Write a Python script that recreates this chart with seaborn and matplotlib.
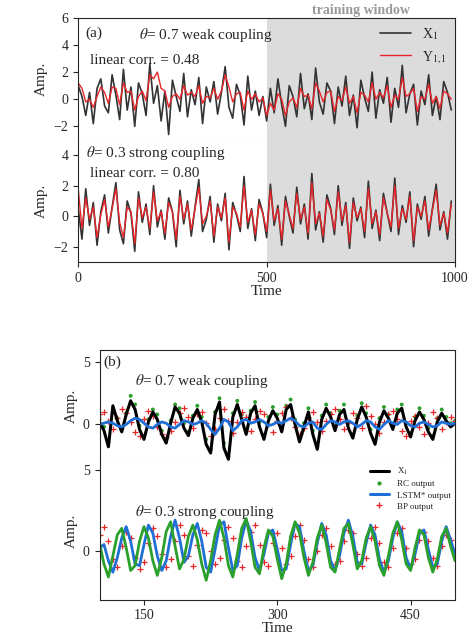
import numpy as np
import pandas as pd
import matplotlib.pyplot as plt
import seaborn as sns
from matplotlib.lines import Line2D

# panel (a): time 0..1000, step 10
t_a = list(range(0, 1000, 10))
xa_top = [1.0,0.2,-1.2,0.5,-1.8,0.8,1.5,-0.5,-1.0,1.8,0.3,-1.5,2.2,-0.8,0.9,-2.0,1.2,0.4,-1.2,2.6,
          -0.3,1.0,-1.6,0.6,-2.6,1.4,0.2,-0.9,1.9,-1.3,0.7,-0.4,1.6,-1.8,0.9,-0.2,1.3,-1.1,0.5,2.4,
          -0.6,-1.4,1.1,0.3,-1.9,1.7,-0.8,0.6,-1.2,0.2,-1.6,0.8,-1.0,1.5,-0.4,-2.0,1.0,0.2,-1.3,1.9,
          -0.7,0.4,-1.5,2.3,-0.2,-1.1,1.2,0.6,-1.8,0.9,-0.5,1.7,-1.2,0.3,-2.1,1.4,0.1,-0.9,2.0,-1.4,
          0.7,-0.3,1.6,-1.7,0.8,-0.6,2.5,-1.0,0.4,1.1,-1.9,0.6,-0.4,1.8,-1.2,0.2,-1.5,1.3,0.5,-0.8]
ya_top = [1.2,0.8,-0.2,0.0,-0.6,0.2,0.9,0.5,-0.3,0.9,0.8,-0.4,1.2,0.5,0.6,-0.8,0.2,0.6,-0.1,1.8,
          1.5,2.0,0.8,0.6,-0.6,0.2,0.4,0.0,1.0,0.3,0.5,0.2,1.0,-0.3,0.2,0.1,0.8,0.0,0.6,1.8,
          0.9,-0.2,0.4,0.5,-0.8,0.6,0.0,0.4,-0.2,0.1,-1.2,-0.3,-0.8,0.4,0.0,-1.2,-0.2,0.1,-0.6,0.8,
          0.2,0.3,-0.7,1.2,0.6,-0.2,0.5,0.6,-0.9,0.2,-0.1,0.9,-0.3,0.2,-1.0,0.5,0.3,-0.2,1.2,0.0,
          0.5,0.1,1.0,-0.6,0.3,0.0,1.6,0.2,0.4,0.8,-0.9,0.2,0.0,1.1,-0.3,0.2,-0.7,0.6,0.4,0.0]
xa_bot = [0.5,-1.5,1.8,-0.6,0.9,-1.9,0.3,1.4,-1.1,0.6,2.2,-0.9,-1.8,1.0,0.2,-2.3,1.6,-0.4,0.8,-1.2,
          2.0,-0.7,0.4,-1.5,1.2,0.3,-2.0,1.7,-0.5,1.0,-1.3,0.6,2.4,-1.0,-0.2,1.3,-1.7,0.8,-0.3,1.5,
          -2.2,0.9,0.1,-1.0,2.6,-0.8,0.5,-1.6,1.1,0.2,-1.4,2.1,-0.6,0.7,-1.9,1.3,0.0,-1.1,1.9,-0.5,
          0.8,-1.5,2.8,-0.9,0.3,-1.7,1.4,0.5,-1.2,2.0,-0.6,0.9,-2.1,1.2,-0.3,0.6,-1.4,2.3,-0.8,0.4,
          -1.6,1.5,0.2,-1.0,2.5,-1.2,0.7,-0.4,1.6,-2.0,0.8,-0.2,1.3,-1.3,0.5,2.1,-0.9,0.3,-1.5,1.0]
ya_bot = [1.8,-0.8,1.2,-0.2,0.6,-1.4,0.1,1.1,-0.7,0.5,1.8,-0.4,-1.4,0.6,0.3,-1.8,1.2,-0.1,0.6,-0.8,
          1.6,-0.3,0.3,-1.1,0.9,0.3,-1.5,1.3,-0.2,0.8,-0.9,0.5,1.9,-0.5,0.0,1.0,-1.3,0.6,-0.1,1.2,
          -1.7,0.6,0.2,-0.7,2.0,-0.4,0.4,-1.2,0.8,0.2,-1.0,1.7,-0.3,0.5,-1.5,1.0,0.1,-0.8,1.5,-0.2,
          0.6,-1.1,2.2,-0.5,0.2,-1.3,1.1,0.4,-0.9,1.6,-0.3,0.7,-1.7,0.9,-0.1,0.5,-1.0,1.8,-0.5,0.3,
          -1.2,1.2,0.2,-0.7,2.0,-0.8,0.5,-0.2,1.3,-1.6,0.6,0.0,1.0,-0.9,0.4,1.7,-0.6,0.2,-1.1,0.8]

# panel (b): time 100..500, step 5
t_b = list(range(100, 505, 5))
x1_top = [0.2,-0.5,-1.8,1.5,0.3,-0.6,0.8,1.9,1.2,-0.4,-1.2,0.2,1.0,0.4,-0.8,-1.5,0.1,1.4,0.9,-0.3,
          -0.9,0.5,1.2,0.2,-1.6,-2.3,0.8,1.8,-1.9,-2.8,0.6,1.6,0.4,-0.8,0.9,1.5,-0.2,-1.2,0.3,1.1,
          0.5,-0.6,1.2,1.6,0.0,-1.4,-0.2,1.0,-0.8,-2.0,0.4,1.3,0.6,-0.5,0.8,1.2,-0.3,-1.1,0.4,1.4,
          0.6,-0.7,-1.6,0.2,1.1,0.5,-0.4,0.9,1.3,-0.2,-1.0,0.3,1.0,0.4,-0.6,-1.2,0.2,0.9,0.3,-0.2,0.1]
rc_top = [0.4,-0.2,-1.4,1.2,0.5,-0.3,0.9,2.3,1.6,-0.1,-1.0,0.4,1.2,0.8,-0.5,-1.2,0.3,1.6,1.3,0.1,
          -0.6,0.7,1.5,0.6,-1.2,-2.0,1.0,2.1,-1.5,-2.6,0.9,1.9,0.8,-0.5,1.1,1.8,0.2,-0.9,0.6,1.4,
          0.8,-0.3,1.5,2.0,0.4,-1.1,0.1,1.3,-0.5,-1.8,0.7,1.6,0.9,-0.2,1.1,1.6,0.1,-0.8,0.7,1.7,
          0.9,-0.4,-1.3,0.5,1.4,0.8,-0.1,1.2,1.6,0.1,-0.7,0.6,1.3,0.7,-0.3,-0.9,0.5,1.2,0.6,0.1,0.3]
lstm_top = [0.0,0.1,0.2,0.1,-0.1,-0.2,0.0,0.3,0.5,0.4,0.1,-0.2,-0.3,0.0,0.2,0.1,-0.2,-0.3,0.0,0.3,
            0.2,0.0,0.1,0.3,0.1,-0.4,-0.8,-0.3,0.4,0.2,-0.5,-0.2,0.3,0.4,0.1,0.2,0.4,0.2,-0.1,0.0,
            0.2,0.1,0.3,0.5,0.3,-0.1,-0.2,0.1,0.2,-0.3,-0.4,0.0,0.3,0.2,0.0,0.2,0.3,0.1,-0.2,0.0,
            0.3,0.2,-0.2,-0.4,0.0,0.3,0.1,0.0,0.3,0.2,-0.1,-0.2,0.1,0.2,0.0,-0.2,-0.1,0.2,0.1,0.0,0.1]
bp_top = [0.8,1.0,0.3,-0.4,0.5,1.2,0.9,0.2,-0.6,-0.9,0.4,1.1,0.7,-0.2,-0.8,-1.0,-0.5,0.2,0.9,1.3,
          0.6,-0.3,0.8,1.0,0.1,-0.9,-0.4,0.5,1.2,0.3,-0.7,0.2,1.0,0.6,-0.5,0.4,1.1,0.8,0.0,-0.6,
          0.3,0.9,1.4,0.5,-0.2,-0.8,-0.3,0.6,1.0,0.2,-0.5,0.3,0.8,1.2,0.4,-0.4,0.1,0.9,0.5,-0.3,
          1.5,0.7,0.0,-0.7,0.2,0.8,1.1,0.4,-0.5,-0.9,0.3,0.7,-0.2,-0.8,0.1,1.0,0.5,-0.4,0.2,0.6,0.3]
rc_bot = [0.5,-0.8,-1.6,-0.3,1.0,1.4,0.2,-1.2,-0.9,0.6,1.5,0.8,-0.6,-1.5,-0.4,1.2,1.8,0.3,-1.1,-0.5,
          0.9,1.6,0.7,-0.8,-1.8,-0.6,1.0,1.9,0.8,-0.9,-1.6,-0.2,1.4,2.0,0.6,-1.0,-1.4,0.2,1.3,0.9,
          -0.5,-1.7,-0.8,0.9,1.8,1.1,-0.4,-1.5,-0.7,0.8,1.6,0.5,-1.0,-1.3,0.1,1.4,1.7,0.4,-1.1,-0.6,
          0.8,1.5,0.6,-0.9,-1.5,-0.3,1.1,1.8,0.7,-0.8,-1.2,0.2,1.3,1.0,-0.4,-1.3,-0.5,0.9,1.4,0.3,-0.6]
lstm_bot = [0.2,0.4,-0.6,-1.3,-0.4,0.8,1.5,0.6,-0.8,-0.9,0.4,1.6,1.1,-0.3,-1.2,-0.6,0.9,1.9,0.8,-0.7,
            -0.3,1.0,1.7,0.6,-1.0,-1.3,0.1,1.6,1.8,0.2,-1.2,-0.9,0.8,1.9,1.2,-0.4,-1.2,-0.2,1.1,1.3,
            0.1,-1.2,-1.1,0.4,1.7,1.5,0.0,-1.2,-0.9,0.5,1.7,1.0,-0.6,-1.2,-0.3,1.1,1.9,0.9,-0.7,-0.8,
            0.5,1.6,1.0,-0.5,-1.3,-0.6,0.8,1.8,1.2,-0.4,-1.1,-0.2,1.1,1.3,0.1,-1.0,-0.8,0.6,1.5,0.7,-0.2]
bp_bot = [1.0,1.5,0.6,-0.5,-1.0,0.3,1.2,0.8,-0.4,-1.1,-0.7,0.5,1.4,0.9,-0.2,-1.0,-0.5,0.6,1.6,1.0,
          -0.3,-0.9,0.4,1.3,1.1,0.0,-0.8,-0.4,0.7,1.5,0.8,-0.6,-1.0,0.3,1.2,1.6,0.4,-0.7,-0.9,0.5,
          1.1,0.2,-0.8,-0.3,0.9,1.6,0.7,-0.5,-1.0,0.0,1.0,1.4,0.3,-0.8,-0.6,0.6,1.3,1.1,-0.2,-0.9,
          -0.4,0.8,1.5,0.5,-0.7,-1.0,0.2,1.1,1.4,0.2,-0.8,-0.5,0.7,1.2,0.6,-0.4,-0.9,0.3,1.0,0.7,0.1]

sns.set_style("ticks")
plt.rcParams['font.family'] = ['Liberation Serif', 'DejaVu Serif']
plt.rcParams['mathtext.fontset'] = 'stix'
plt.rcParams['font.size'] = 10

fig = plt.figure(figsize=(4.74, 6.36), dpi=100)
a1 = fig.add_axes([0.165, 0.780, 0.795, 0.192])
a2 = fig.add_axes([0.165, 0.588, 0.795, 0.192])
b1 = fig.add_axes([0.21, 0.274, 0.75, 0.176])
b2 = fig.add_axes([0.21, 0.057, 0.75, 0.217])

# panel (a)
for ax, xs, ys in [(a1, xa_top, ya_top), (a2, xa_bot, ya_bot)]:
    ax.axvspan(500, 1000, color='#dcdcdc', zorder=0, lw=0)
    sns.lineplot(x=t_a, y=xs, ax=ax, color='#333333', lw=1.2, label='X$_1$')
    sns.lineplot(x=t_a, y=ys, ax=ax, color='#e8262a', lw=1.0, label='Y$_{1,1}$')
    ax.set_xlim(0, 1000)
    ax.set_ylabel('Amp.', fontsize=11)
    ax.tick_params(labelsize=10)
a1.set_ylim(-3, 6)
a1.set_yticks([-2, 0, 2, 4, 6])
a2.set_ylim(-3, 5)
a2.set_yticks([-2, 0, 2, 4])
a1.tick_params(axis='x', bottom=False, labelbottom=False)
a2.set_xticks([0, 500, 1000])
a2.set_xlabel('Time', fontsize=11, labelpad=0)
a1.spines['bottom'].set_color('#bbbbbb')
a2.spines['top'].set_visible(False)
a1.legend(loc='upper right', frameon=False, fontsize=10, handlelength=2.2, borderaxespad=0.2)
a2.legend().remove()
a1.text(0.02, 0.93, '(a)', transform=a1.transAxes, fontsize=11, va='top')
a1.text(0.16, 0.93, r'$\theta$= 0.7 weak coupling', transform=a1.transAxes, fontsize=11, va='top')
a1.text(0.03, 0.70, 'linear corr. = 0.48', transform=a1.transAxes, fontsize=11, va='top')
a2.text(0.02, 0.97, r'$\theta$= 0.3 strong coupling', transform=a2.transAxes, fontsize=11, va='top')
a2.text(0.03, 0.78, 'linear corr. = 0.80', transform=a2.transAxes, fontsize=11, va='top')
a1.text(750, 6.3, 'training window', fontsize=10, color='#999999', fontweight='bold', ha='center')

# panel (b)
sns.lineplot(x=t_b, y=x1_top, ax=b1, color='black', lw=2.2)
sns.lineplot(x=t_b, y=lstm_top, ax=b1, color='#1f6fd6', lw=2.0)
sns.scatterplot(x=t_b, y=rc_top, ax=b1, color='#2ca02c', s=8, edgecolor='none')
sns.scatterplot(x=t_b, y=bp_top, ax=b1, color='#e8262a', marker='+', s=18, linewidth=0.9)
sns.lineplot(x=t_b, y=lstm_bot, ax=b2, color='#1f6fd6', lw=2.0)
sns.lineplot(x=t_b, y=rc_bot, ax=b2, color='#2ca02c', lw=2.0)
sns.scatterplot(x=t_b, y=bp_bot, ax=b2, color='#e8262a', marker='+', s=18, linewidth=0.9)
for ax in (b1, b2):
    ax.set_xlim(100, 500)
    ax.set_ylabel('Amp.', fontsize=11)
    ax.tick_params(labelsize=10)
b1.set_ylim(-3, 6)
b1.set_yticks([0, 5])
b2.set_ylim(-3, 5.5)
b2.set_yticks([0, 5])
b1.tick_params(axis='x', bottom=False, labelbottom=False)
b2.set_xticks([150, 300, 450])
b2.set_xlabel('Time', fontsize=11, labelpad=0)
b1.spines['bottom'].set_color('#bbbbbb')
b2.spines['top'].set_visible(False)
b1.text(0.01, 0.95, '(b)', transform=b1.transAxes, fontsize=11, va='top')
b1.text(0.1, 0.8, r'$\theta$= 0.7 weak coupling', transform=b1.transAxes, fontsize=11, va='top')
b2.text(0.1, 0.7, r'$\theta$= 0.3 strong coupling', transform=b2.transAxes, fontsize=11, va='top')

handles = [Line2D([], [], color='black', lw=2.2),
           Line2D([], [], color='#2ca02c', marker='o', ms=2, ls='none'),
           Line2D([], [], color='#1f6fd6', lw=2.2),
           Line2D([], [], color='#e8262a', marker='+', ms=4, ls='none')]
b2.legend(handles, ['X$_1$', 'RC output', 'LSTM* output', 'BP output'], loc='upper right',
          frameon=False, fontsize=6.5, handlelength=2.2, labelspacing=0.3, borderaxespad=0.1)

fig.savefig('out.png', dpi=100)
